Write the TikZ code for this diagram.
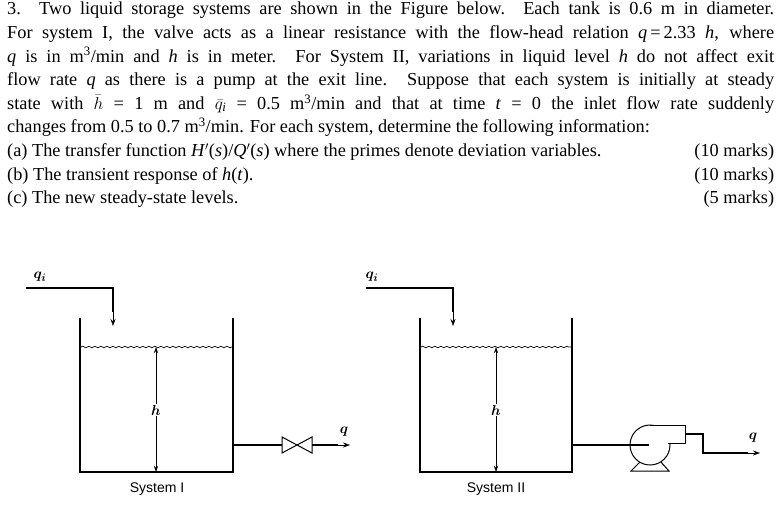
\documentclass[tikz,border=0pt]{standalone}
\usepackage{bm}
\usepackage{fontspec}
\setmainfont{Liberation Serif}
\setsansfont{Liberation Sans}
\usetikzlibrary{arrows.meta,decorations.pathmorphing}
\begin{document}
\begin{tikzpicture}[x=1pt,y=-1pt,
  wall/.style={line width=2pt},
  pipe/.style={line width=2pt},
  thin/.style={line width=0.6pt},
  water/.style={line width=0.7pt,decorate,decoration={snake,segment length=6pt,amplitude=0.8pt}},
  lab/.style={font=\fontsize{15}{17}\selectfont},
  sys/.style={font=\sffamily\fontsize{14}{16}\selectfont},
  arr/.style={-{Stealth[length=7pt,width=5pt]}}]
\useasboundingbox (0,0) rectangle (781,506);
\node[anchor=north west,inner sep=0,text width=767pt,align=justify,font=\fontsize{18.3}{23.6}\selectfont] (txt) at (7,2) {%
3. Two liquid storage systems are shown in the Figure below. Each tank is 0.6 m in diameter.\linebreak For system I, the valve acts as a linear resistance with the flow-head relation \textit{q}\,=\,2.33 \textit{h}, where\linebreak \textit{q} is in m\textsuperscript{3}/min and \textit{h} is in meter. For System II, variations in liquid level \textit{h} do not affect exit\linebreak flow rate \textit{q} as there is a pump at the exit line. Suppose that each system is initially at steady\linebreak state with $\bar{h}$ = 1 m and $\bar{q}_{\mathit{i}}$ = 0.5 m\textsuperscript{3}/min and that at time \textit{t} = 0 the inlet flow rate suddenly\linebreak changes from 0.5 to 0.7 m\textsuperscript{3}/min. For each system, determine the following information:\hfill\break
(a) The transfer function \textit{H}$'$(\textit{s})/\textit{Q}$'$(\textit{s}) where the primes denote deviation variables.\hfill(10 marks)\break
(b) The transient response of \textit{h}(\textit{t}).\hfill(10 marks)\break
(c) The new steady-state levels.\hfill(5 marks)\hspace*{8pt}};
% System I
\draw[wall] (80,318) -- (80,472) -- (233,472) -- (233,318);
\draw[water] (81,347) -- (232,347);
\draw[pipe] (26,288) -- (113,288) -- (113,312);
\draw[arr,thin] (113,305) -- (113,326);
\node[lab] (qi1) at (40,277) {$\bm{q_i}$};
\coordinate (t1) at (156,347); \coordinate (b1) at (156,472);
\draw[thin,{Stealth[length=6pt,width=4pt]}-{Stealth[length=6pt,width=4pt]}] (t1) -- (b1);
\node[lab,fill=white,inner sep=1pt] (h1) at (156,410) {$\bm{h}$};
\draw[pipe] (233,445) -- (282,445);
\draw[line width=1pt] (282,437) -- (312,453) -- (312,437) -- (282,453) -- cycle;
\draw[pipe] (312,445) -- (338,445);
\draw[arr,thin] (335,445) -- (350,445);
\node[lab] (q1) at (344,432) {$\bm{q}$};
\node[sys] (s1) at (157,489) {System I};
% System II
\draw[wall] (420,318) -- (420,472) -- (572,472) -- (572,318);
\draw[water] (421,347) -- (571,347);
\draw[pipe] (366,288) -- (453,288) -- (453,312);
\draw[arr,thin] (453,305) -- (453,326);
\node[lab] (qi2) at (372,277) {$\bm{q_i}$};
\coordinate (t2) at (496,347); \coordinate (b2) at (496,472);
\draw[thin,{Stealth[length=6pt,width=4pt]}-{Stealth[length=6pt,width=4pt]}] (t2) -- (b2);
\node[lab,fill=white,inner sep=1pt] (h2) at (496,410) {$\bm{h}$};
\draw[line width=1pt] (641,461) -- (631,471) -- (669,471) -- (660,461);
\draw[line width=1pt,fill=white] (650,445) circle (20);
\draw[line width=1pt,fill=white] (650,425) -- (685,425) -- (685,443) -- (668,443);
\draw[pipe] (572,445) -- (649,445);
\draw[pipe] (685,434) -- (703,434) -- (703,453) -- (748,453);
\draw[arr,thin] (745,453) -- (760,453);
\node[lab] (q2) at (753,438) {$\bm{q}$};
\node[sys] (s2) at (496,489) {System II};
\end{tikzpicture}
\end{document}
